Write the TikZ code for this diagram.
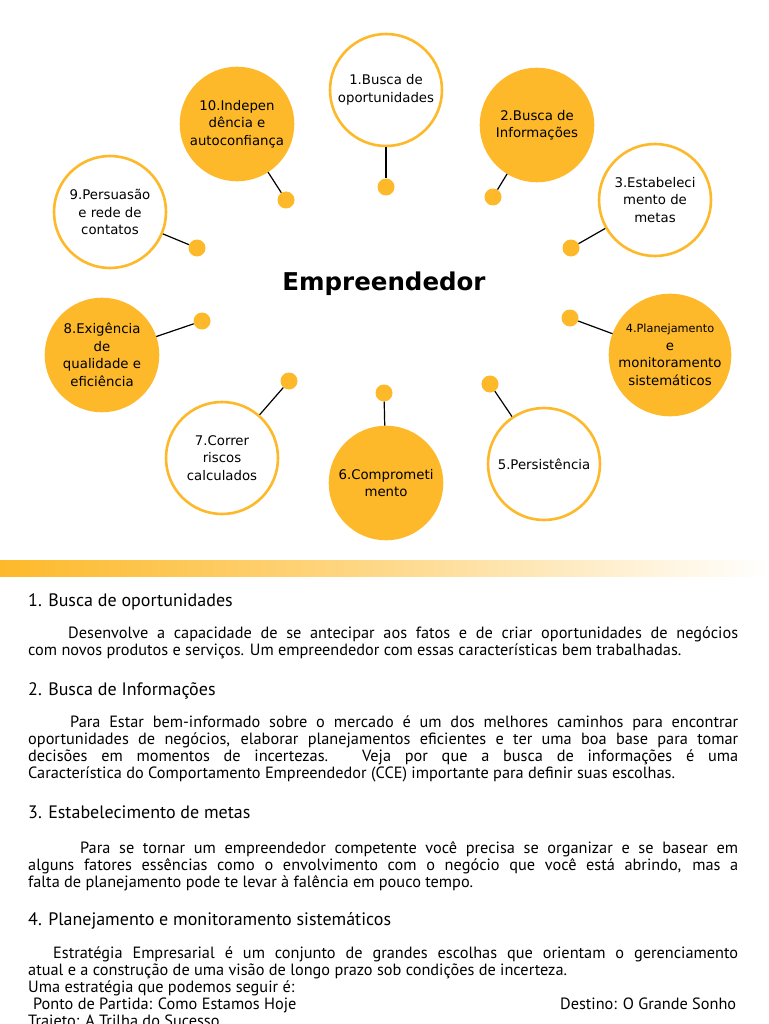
\documentclass[tikz,border=0pt]{standalone}
\usepackage{fontspec}
\setmainfont{PT Sans}
\newfontfamily\cfont{DejaVu Sans}
\begin{document}
\begin{tikzpicture}[x=1pt,y=-1pt,
 wc/.style={circle,draw=orY,line width=2.6pt,fill=white,minimum size=112pt,inner sep=0pt,align=center,font=\cfont\fontsize{13.3}{17.5}\selectfont},
 fc/.style={circle,draw=orY,line width=2.6pt,fill=orY,minimum size=112pt,inner sep=0pt,align=center,font=\cfont\fontsize{13.3}{17.5}\selectfont},
 dot/.style={circle,fill=orY,minimum size=17pt,inner sep=0pt},
 ln/.style={line width=1.2pt,black},
 hd/.style={anchor=base west,inner sep=0pt,font=\fontsize{18}{20}\selectfont},
 par/.style={anchor=north west,text width=710pt,align=justify,inner sep=0pt,font=\fontsize{16.3}{17}\selectfont}]
\definecolor{orY}{HTML}{FDB92A}
\useasboundingbox (0,0) rectangle (768,1024);
\fill[white] (0,0) rectangle (768,1024);
\node[wc] (c1) at (386,90) {1.Busca de\\oportunidades};
\node[fc] (c2) at (537,125) {2.Busca de\\Informações};
\node[wc] (c3) at (655,200) {3.Estabeleci\\mento de\\metas};
\node[fc] (c4) at (670,355) {\fontsize{11.3}{15}\selectfont 4.Planejamento\\e\\monitoramento\\sistemáticos};
\node[wc] (c5) at (544,464) {5.Persistência};
\node[fc] (c6) at (386,483) {6.Comprometi\\mento};
\node[wc] (c7) at (222,458) {7.Correr\\riscos\\calculados};
\node[fc] (c8) at (102,355) {8.Exigência\\de\\qualidade e\\eficiência};
\node[wc] (c9) at (110,212) {9.Persuasão\\e rede de\\contatos};
\node[fc] (c10) at (237,124) {10.Indepen\\dência e\\autoconfiança};
\node[dot] (d1) at (386,187) {};
\node[dot] (d2) at (493,197) {};
\node[dot] (d3) at (571,248) {};
\node[dot] (d4) at (570,318) {};
\node[dot] (d5) at (490,384) {};
\node[dot] (d6) at (384,393) {};
\node[dot] (d7) at (289,381) {};
\node[dot] (d8) at (202,321) {};
\node[dot] (d9) at (197,248) {};
\node[dot] (d10) at (286,200) {};
\foreach \i in {1,...,10}{\draw[ln] (c\i) -- (d\i);}
\node[font=\cfont\fontsize{24.5}{30}\selectfont\bfseries] (t) at (384,284) {Empreendedor};
\shade[left color=orY,right color=white,middle color=orY!55] (0,560) rectangle (768,576);
\node[hd] (h1) at (28,606) {1. Busca de oportunidades};
\node[par] (p1) at (28,627) {\hspace*{40pt}Desenvolve a capacidade de se antecipar aos fatos e de criar oportunidades de negócios\linebreak com novos produtos e serviços. Um empreendedor com essas características bem trabalhadas.};
\node[hd] (h2) at (28,695) {2. Busca de Informações};
\node[par] (p2) at (28,716) {\hspace*{42pt}Para Estar bem-informado sobre o mercado é um dos melhores caminhos para encontrar\linebreak oportunidades de negócios, elaborar planejamentos eficientes e ter uma boa base para tomar\linebreak decisões em momentos de incertezas. Veja por que a busca de informações é uma\linebreak Característica do Comportamento Empreendedor (CCE) importante para definir suas escolhas.};
\node[hd] (h3) at (28,818) {3. Estabelecimento de metas};
\node[par] (p3) at (28,841) {\hspace*{52pt}Para se tornar um empreendedor competente você precisa se organizar e se basear em\linebreak alguns fatores essências como o envolvimento com o negócio que você está abrindo, mas a\linebreak falta de planejamento pode te levar à falência em pouco tempo.};
\node[hd] (h4) at (28,925) {4. Planejamento e monitoramento sistemáticos};
\node[par] (p4) at (28,947) {\hspace*{25pt}Estratégia Empresarial é um conjunto de grandes escolhas que orientam o gerenciamento\linebreak atual e a construção de uma visão de longo prazo sob condições de incerteza.\\
Uma estratégia que podemos seguir é:\\
\hspace*{5pt}Ponto de Partida: Como Estamos Hoje\hfill Destino: O Grande Sonho\hspace*{2pt}\\
Trajeto: A Trilha do Sucesso};
\end{tikzpicture}
\end{document}
